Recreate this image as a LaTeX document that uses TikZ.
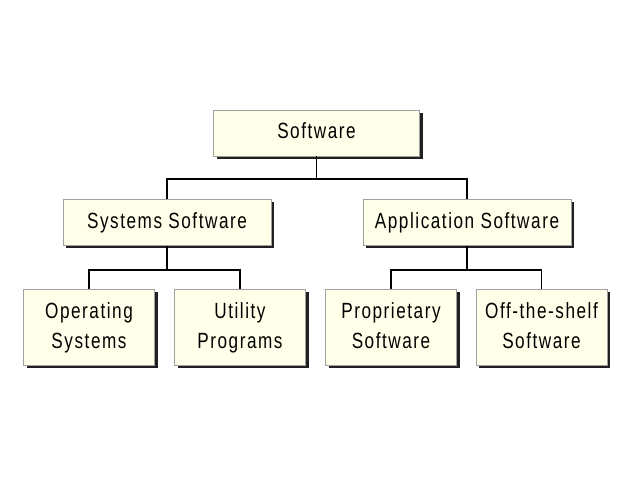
\documentclass[tikz,border=0pt]{standalone}
\usepackage{fontspec}
\setmainfont{Liberation Sans}[FakeStretch=0.78,LetterSpace=7]
\usetikzlibrary{shadows}
\definecolor{boxfill}{HTML}{FFFFEA}
\definecolor{boxedge}{HTML}{A0A0A0}
\definecolor{shadowc}{HTML}{202020}
\newcommand{\bxline}[1]{\strut#1}
\begin{document}
\begin{tikzpicture}[x=1pt,y=-1pt,
  box/.style={draw=boxedge,line width=0.8pt,fill=boxfill,
    drop shadow={shadow xshift=3pt,shadow yshift=-3pt,fill=shadowc,opacity=1},
    inner sep=0pt,align=center,font=\fontsize{22}{30}\selectfont},
  conn/.style={draw=black,line width=1.1pt}]
\useasboundingbox (0,0) rectangle (638,478);
\node[box,minimum width=206pt,minimum height=46pt] (sw) at (316.5,133) {\bxline{Software}};
\node[box,minimum width=208pt,minimum height=46pt] (sys) at (167,222.5) {\bxline{Systems Software}};
\node[box,minimum width=208pt,minimum height=46pt] (app) at (467,222.5) {\bxline{Application Software}};
\node[box,minimum width=131pt,minimum height=76pt] (os) at (89,327.5) {\bxline{Operating}\\\bxline{Systems}};
\node[box,minimum width=131pt,minimum height=76pt] (up) at (240,327.5) {\bxline{Utility}\\\bxline{Programs}};
\node[box,minimum width=131pt,minimum height=76pt] (ps) at (391,327.5) {\bxline{Proprietary}\\\bxline{Software}};
\node[box,minimum width=131pt,minimum height=76pt] (ots) at (541.5,327.5) {\bxline{Off-the-shelf}\\\bxline{Software}};
\coordinate (j1) at (316.5,179);
\coordinate (j2) at (167,270);
\coordinate (j3) at (467,270);
\draw[conn] (sw.south) -- (j1);
\draw[conn] (sys.north) |- (j1) -| (app.north);
\draw[conn] (sys.south) -- (j2);
\draw[conn] (os.north) |- (j2) -| (up.north);
\draw[conn] (app.south) -- (j3);
\draw[conn] (ps.north) |- (j3) -| (ots.north);
\end{tikzpicture}
\end{document}
